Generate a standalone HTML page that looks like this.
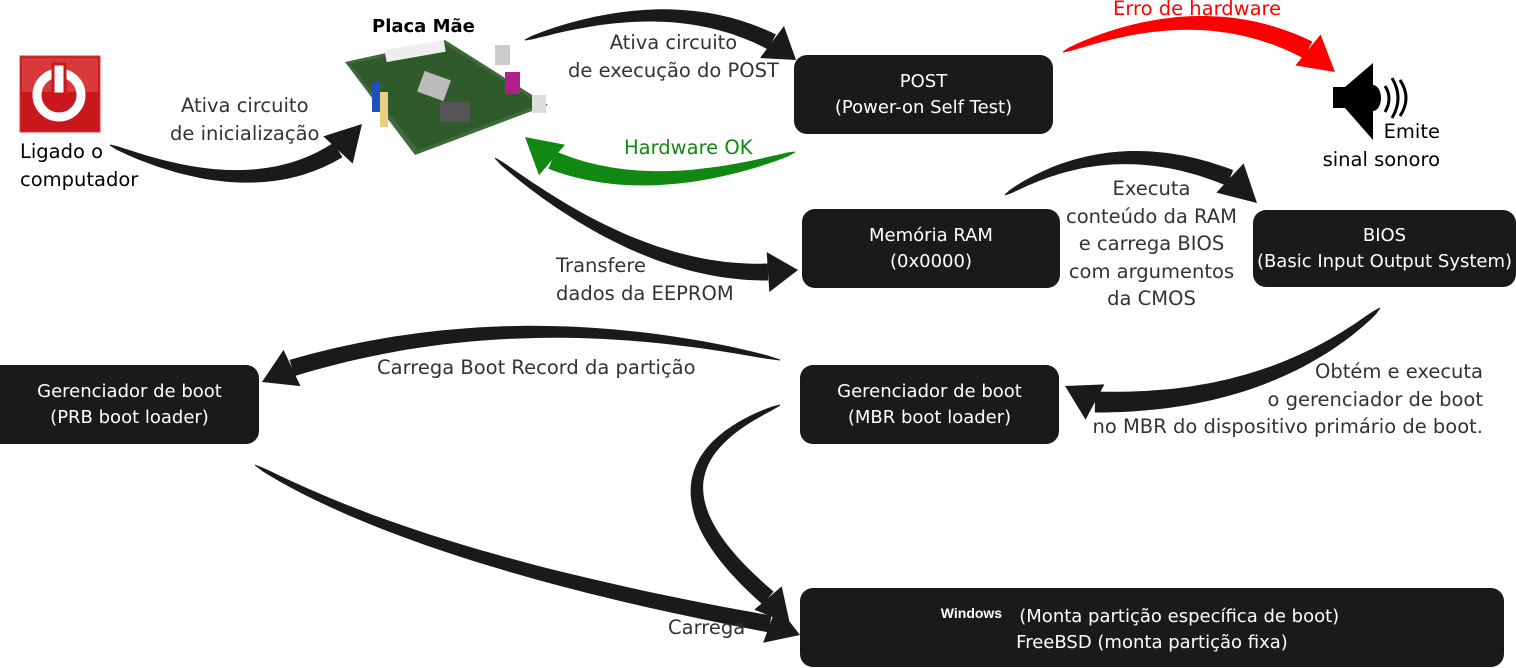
<!DOCTYPE html>
<html><head><meta charset="utf-8">
<style>
body{margin:0;width:1516px;height:668px;background:#fff;overflow:hidden;font-family:"DejaVu Sans","Liberation Sans",sans-serif;}
svg{position:absolute;left:0;top:0}
.box{position:absolute;background:#1a1a1a;border-radius:13px;color:#fff;text-align:center;font-size:18px;line-height:26px;display:flex;flex-direction:column;justify-content:center;white-space:nowrap}
.lbl{position:absolute;color:#333;font-size:19.5px;line-height:27.5px;text-align:center;white-space:nowrap}
</style></head><body>
<svg id="s" width="1516" height="668" viewBox="0 0 1516 668">
<rect x="20" y="56" width="80" height="76" fill="#c8181b" stroke="#e03a3a"/>
<rect x="22" y="58" width="76" height="34" fill="#d83a3c"/>
<circle cx="59" cy="95" r="22" fill="none" stroke="#fff" stroke-width="9"/>
<rect x="53" y="64" width="12" height="30" fill="#fff" stroke="#c8181b" stroke-width="3"/>
<polygon points="345,62 445,40 548,105 415,155" fill="#3f6a3a"/>
<polygon points="350,64 445,44 540,104 418,150" fill="#2e5a2c"/>
<rect x="420" y="75" width="28" height="22" fill="#bbb" transform="rotate(20 434 86)"/>
<rect x="385" y="45" width="60" height="12" fill="#eee" transform="rotate(-10 415 50)"/>
<rect x="505" y="72" width="15" height="22" fill="#b0208a"/>
<rect x="372" y="82" width="8" height="30" fill="#2050c0"/>
<rect x="380" y="92" width="8" height="35" fill="#e8d080"/>
<rect x="440" y="102" width="30" height="20" fill="#555"/>
<rect x="495" y="45" width="15" height="20" fill="#ccc"/>
<rect x="532" y="95" width="14" height="18" fill="#ddd"/>
<rect x="1333" y="87" width="13" height="21" fill="#000"/>
<polygon points="1345,87 1373,63 1373,140 1345,108" fill="#000"/>
<ellipse cx="1373" cy="98" rx="8" ry="13" fill="#000"/>
<path d="M1385,86 Q1393,98 1385,112" fill="none" stroke="#000" stroke-width="3"/>
<path d="M1392,78 Q1404,98 1392,118" fill="none" stroke="#000" stroke-width="3"/>
<path d="M1400,80 Q1412,98 1400,116" fill="none" stroke="#000" stroke-width="3"/>
</svg>
<div class="lbl" style="left:372px;top:13px;font-weight:bold;color:#000;font-size:18px">Placa Mãe</div>
<div class="lbl" style="left:20px;top:138px;color:#000;text-align:left">Ligado o<br>computador</div>
<div class="lbl" style="left:170px;top:92px">Ativa circuito<br>de inicialização</div>
<div class="lbl" style="left:568px;top:29px">Ativa circuito<br>de execução do POST</div>
<div class="lbl" style="left:1113px;top:-5px;color:#f00">Erro de hardware</div>
<div class="lbl" style="left:624px;top:134px;color:#118811">Hardware OK</div>
<div class="lbl" style="right:76px;top:118px;color:#000;text-align:right">Emite<br>sinal sonoro</div>
<div class="lbl" style="left:556px;top:252px;text-align:left">Transfere<br>dados da EEPROM</div>
<div class="lbl" style="left:1066px;top:175px">Executa<br>conteúdo da RAM<br>e carrega BIOS<br>com argumentos<br>da CMOS</div>
<div class="lbl" style="left:377px;top:354px">Carrega Boot Record da partição</div>
<div class="lbl" style="right:33px;top:358px;text-align:right">Obtém e executa<br>o gerenciador de boot<br>no MBR do dispositivo primário de boot.</div>
<div class="lbl" style="left:668px;top:614px">Carrega</div>

<div class="box" style="left:794px;top:55px;width:259px;height:79px">POST<br>(Power-on Self Test)</div>
<div class="box" style="left:802px;top:209px;width:258px;height:79px">Memória RAM<br>(0x0000)</div>
<div class="box" style="left:1253px;top:210px;width:263px;height:77px">BIOS<br>(Basic Input Output System)</div>
<div class="box" style="left:0px;top:365px;width:259px;height:79px;border-radius:0 13px 13px 0">Gerenciador de boot<br>(PRB boot loader)</div>
<div class="box" style="left:800px;top:365px;width:259px;height:79px">Gerenciador de boot<br>(MBR boot loader)</div>
<div class="box" style="left:800px;top:588px;width:704px;height:79px"><div style="position:relative;left:-12px"><span style="font-family:'Liberation Sans',sans-serif;font-weight:bold;font-size:14px;vertical-align:4px">Windows</span>&nbsp;&nbsp;&nbsp;(Monta partição específica de boot)</div><div>FreeBSD (monta partição fixa)</div></div>

<script>
var s=document.getElementById('s');
function arrow(p0,c,p1,tip,w,hw,col){
 var L=[],R=[],N=40;
 for(var i=0;i<=N;i++){var t=i/N;
  var x=(1-t)*(1-t)*p0[0]+2*t*(1-t)*c[0]+t*t*p1[0];
  var y=(1-t)*(1-t)*p0[1]+2*t*(1-t)*c[1]+t*t*p1[1];
  var dx=2*(1-t)*(c[0]-p0[0])+2*t*(p1[0]-c[0]);
  var dy=2*(1-t)*(c[1]-p0[1])+2*t*(p1[1]-c[1]);
  var l=Math.hypot(dx,dy);var nx=-dy/l,ny=dx/l;var hwid=(1+Math.sqrt(t)*w)/2;
  L.push([x+nx*hwid,y+ny*hwid]);R.push([x-nx*hwid,y-ny*hwid]);}
 var d='M'+L.map(function(p){return p[0].toFixed(1)+','+p[1].toFixed(1)}).join(' L')+' L'+R.reverse().map(function(p){return p[0].toFixed(1)+','+p[1].toFixed(1)}).join(' L')+'Z';
 var pa=document.createElementNS('http://www.w3.org/2000/svg','path');pa.setAttribute('d',d);pa.setAttribute('fill',col);s.appendChild(pa);
 var dx=tip[0]-p1[0],dy=tip[1]-p1[1],l=Math.hypot(dx,dy),nx=-dy/l,ny=dx/l;
 var h=document.createElementNS('http://www.w3.org/2000/svg','polygon');
 h.setAttribute('points',(p1[0]+nx*hw)+','+(p1[1]+ny*hw)+' '+tip[0]+','+tip[1]+' '+(p1[0]-nx*hw)+','+(p1[1]-ny*hw));
 h.setAttribute('fill',col);s.appendChild(h);
}
var k='#1a1a1a';
arrow([110,145],[250,205],[338,150],[362,124],16,20,k);
arrow([525,40],[670,-10],[772,42],[796,60],16,20,k);
arrow([1063,52],[1200,-5],[1308,50],[1335,72],18,20,'#f00');
arrow([795,152],[650,200],[552,160],[525,137],18,20,'#118811');
arrow([495,158],[640,275],[768,272],[798,270],16,20,k);
arrow([1005,195],[1110,130],[1230,178],[1257,203],16,20,k);
arrow([1380,308],[1270,405],[1095,402],[1065,386],20,20,k);
arrow([780,360],[520,300],[292,368],[262,382],16,20,k);
arrow([255,465],[420,560],[770,624],[800,635],16,20,k);
arrow([780,405],[620,470],[768,598],[790,624],16,18,k);
</script>
</body></html>
